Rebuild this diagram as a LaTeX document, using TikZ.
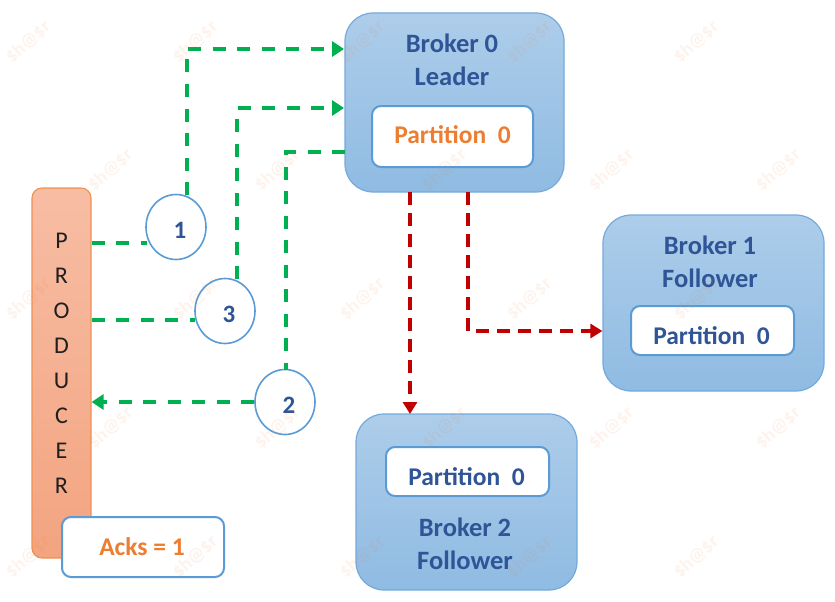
\documentclass[tikz,border=0pt]{standalone}
\usepackage{fontspec}
\setmainfont{Carlito}
\usetikzlibrary{arrows.meta,shapes.geometric}
\definecolor{gr}{HTML}{00B050}
\definecolor{rd}{HTML}{C00000}
\definecolor{bl}{HTML}{5B9BD5}
\definecolor{nv}{HTML}{2F5597}
\definecolor{og}{HTML}{ED7D31}
\definecolor{prodtop}{HTML}{F7BDA4}
\definecolor{prodbot}{HTML}{F3A480}
\tikzset{
 wm/.style={text=og,text opacity=.09,rotate=42,font=\fontsize{19}{19}\selectfont\bfseries},
 broker/.style={draw=bl!85,line width=1.2pt,rounded corners=28pt,top color=bl!50!white,bottom color=bl!68!white,shading angle=0,minimum width=#1,inner sep=0},
 whitebox/.style={draw=bl,line width=2pt,fill=white,rounded corners=9pt,inner sep=0},
 ptext/.style={text=nv,font=\fontsize{25.5}{25.5}\selectfont\bfseries},
 orangetext/.style={text=og},
 blabel/.style={text=nv,font=\fontsize{26.5}{26.5}\selectfont\bfseries,align=center},
 num/.style={ellipse,draw=bl,line width=1.6pt,fill=white,minimum width=60pt,minimum height=65pt,inner sep=0},
 numtext/.style={text=nv,font=\fontsize{25}{25}\selectfont\bfseries},
 garrow/.style={draw=gr,line width=3.4pt,dash pattern=on 13pt off 11.5pt,-{Triangle[length=12pt,width=15pt]}},
 gline/.style={draw=gr,line width=3.4pt,dash pattern=on 13pt off 11.5pt},
 rarrow/.style={draw=rd,line width=3.2pt,dash pattern=on 13pt off 8pt,-{Triangle[length=12pt,width=14pt]}},
}
\begin{document}
\begin{tikzpicture}[x=1pt,y=-1pt]
\useasboundingbox (0,0) rectangle (835,602);
% producer
\node[draw=og!85,line width=1.1pt,rounded corners=10pt,top color=prodtop,bottom color=prodbot,minimum width=59pt,minimum height=370pt,inner sep=0,align=center,font=\fontsize{24}{35}\selectfont,text=black!88] (prod) at (61.5,373) {\\[-3pt]P\\R\\O\\D\\U\\C\\E\\R\\[2pt]~};
% brokers
\node[broker=219pt,minimum height=179pt] (b0) at (454.5,102.5) {};
\node[broker=221pt,minimum height=176pt] (b1) at (713.5,303) {};
\node[broker=221pt,minimum height=176pt] (b2) at (466.5,502) {};
\node[blabel] (t0a) at (452,43) {Broker 0};
\node[blabel] (t0b) at (452,76) {Leader};
\node[blabel] (t1a) at (710,245) {Broker 1};
\node[blabel] (t1b) at (710,278) {Follower};
\node[blabel] (t2a) at (465,527) {Broker 2};
\node[blabel] (t2b) at (465,560) {Follower};
\node[whitebox,minimum width=161pt,minimum height=61pt] (p0) at (452.5,136.5) {};
\node[whitebox,minimum width=163pt,minimum height=49pt] (p1) at (712.5,330.5) {};
\node[whitebox,minimum width=163pt,minimum height=49pt] (p2) at (467.5,471.5) {};
\node[whitebox,minimum width=162pt,minimum height=60pt] (acks) at (143,547) {};
\node[ptext,orangetext] (tp0) at (452.5,135) {Partition~ 0};
\node[ptext] (tp1) at (711.5,335.5) {Partition~ 0};
\node[ptext] (tp2) at (466.5,476.5) {Partition~ 0};
\node[ptext,orangetext] (tacks) at (142,547) {Acks = 1};
% circles
\node[num] (c1) at (176,227) {};
\node[num] (c3) at (225,311) {};
\node[num] (c2) at (285,402) {};
\node[numtext] (n1) at (180,230) {1};
\node[numtext] (n3) at (229,314) {3};
\node[numtext] (n2) at (289,405) {2};
% corners
\coordinate (k1a) at (187,49);
\coordinate (k1b) at (344,49);
\coordinate (k3a) at (237,108);
\coordinate (k3b) at (344,108);
\coordinate (k2a) at (286,152);
\coordinate (k2b) at (345,152);
% green
\draw[gline] (prod.east |- 0,243) -- (147,243);
\draw[gline] (prod.east |- 0,320) -- (195,320);
\draw[garrow] (187,195) -- (k1a) -- (k1b);
\draw[garrow] (237,279) -- (k3a) -- (k3b);
\draw[gline] (k2b) -- (k2a) -- (286,370);
\draw[garrow] (c2.west) -- (prod.east |- c2.west);
% red
\coordinate (r1) at (468,331);
\draw[rarrow] (410,192) -- (410,414);
\draw[rarrow] (468,192) -- (r1) -- (b1.west |- r1);
% watermark
\foreach \y in {42,299,557}{\foreach \x in {28,195,362,529,696}{\node[wm] at (\x,\y) {\$h@\$r};}}
\foreach \y in {170,428}{\foreach \x in {110,277,444,611,778}{\node[wm] at (\x,\y) {\$h@\$r};}}
\end{tikzpicture}
\end{document}
